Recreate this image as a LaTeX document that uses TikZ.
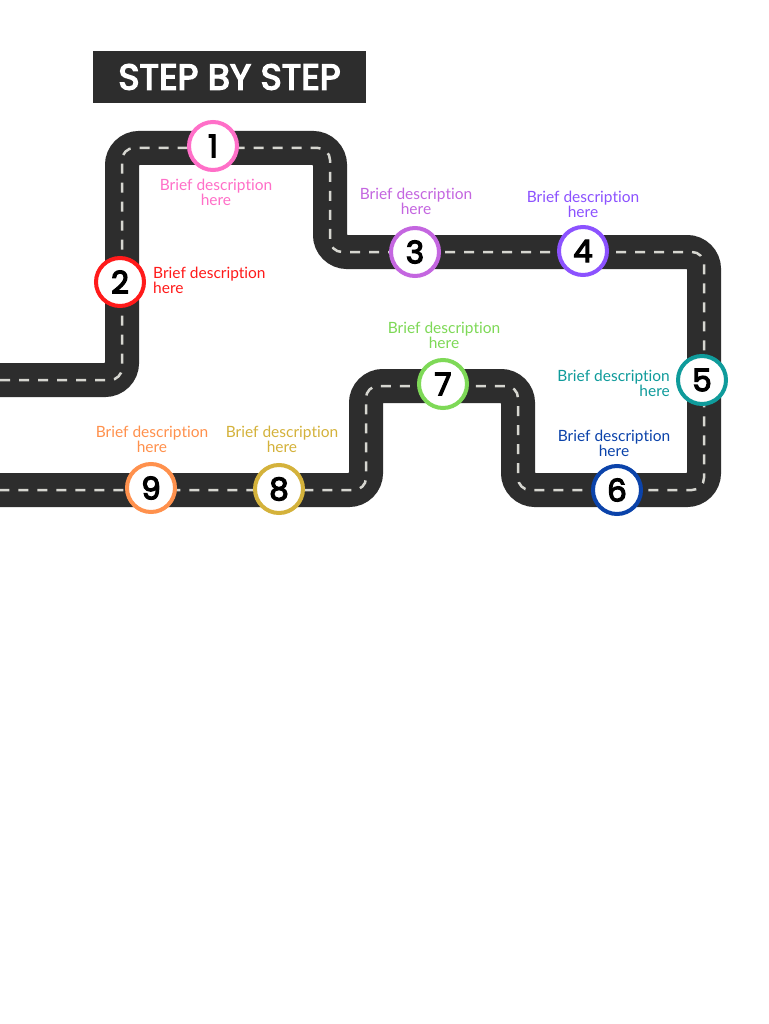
\documentclass[tikz,border=0pt]{standalone}
\usepackage{fontspec}
\setmainfont{Lato}[Ligatures=NoCommon]
\newfontfamily\numfont{Poppins}[FakeBold=4,UprightFont=*,BoldFont=*]
\newfontfamily\titlefont{Poppins}[FakeBold=4,UprightFont=*,BoldFont=*]
\definecolor{road}{HTML}{2D2D2D}
\definecolor{lane}{HTML}{D6D6D0}
\definecolor{cA}{HTML}{FF6FC8}
\definecolor{cB}{HTML}{FF1A1A}
\definecolor{cC}{HTML}{C466E0}
\definecolor{cD}{HTML}{8C52FF}
\definecolor{cE}{HTML}{0F9B9B}
\definecolor{cF}{HTML}{0B43AA}
\definecolor{cG}{HTML}{7ED957}
\definecolor{cH}{HTML}{D4B23B}
\definecolor{cI}{HTML}{FF914D}
\begin{document}
\begin{tikzpicture}[x=1pt,y=-1pt,
  stepcircle/.style={circle,draw=#1,line width=4pt,fill=white,minimum size=48pt,inner sep=0pt,font=\numfont\bfseries\fontsize{31}{31}\selectfont},
  desc/.style={text=#1,font=\fontsize{15.5}{15}\selectfont,inner sep=0pt},
  roadline/.style={draw=road,line width=34pt,rounded corners=17pt},
  laneline/.style={draw=lane,line width=2.5pt,dash pattern=on 10pt off 9pt,rounded corners=12pt}]
\useasboundingbox (0,0) rectangle (768,1024);
\fill[white] (0,0) rectangle (768,1024);
% title
\node[fill=road,minimum width=273pt,minimum height=52pt,inner sep=0pt,text=white,font=\titlefont\bfseries\fontsize{36}{36}\selectfont] (title) at (229.5,77) {STEP BY STEP\hspace{5pt}};
% road
\path[roadline] (-20,380) -- (122,380) -- (122,148) -- (330,148) -- (330,252) -- (704,252) -- (704,490) -- (518,490) -- (518,386) -- (366,386) -- (366,490) -- (-20,490);
\path[laneline] (0,380) -- (122,380) -- (122,148) -- (330,148) -- (330,252) -- (704,252) -- (704,490) -- (518,490) -- (518,386) -- (366,386) -- (366,490) -- (0,490);
% circles
\node[stepcircle=cA] (s1) at (213,146) {1};
\node[stepcircle=cB] (s2) at (120,282) {2};
\node[stepcircle=cC] (s3) at (415,252) {3};
\node[stepcircle=cD] (s4) at (583,251) {4};
\node[stepcircle=cE] (s5) at (702,380) {5};
\node[stepcircle=cF] (s6) at (617,490) {6};
\node[stepcircle=cG] (s7) at (443,384) {7};
\node[stepcircle=cH] (s8) at (279,489) {8};
\node[stepcircle=cI] (s9) at (151,488) {9};
% descriptions
\node[desc=cA,align=center] (d1) at (216,192) {Brief description\\here};
\node[desc=cB,align=left,anchor=west] (d2) at (153,280) {Brief description\\here};
\node[desc=cC,align=center] (d3) at (416,201) {Brief description\\here};
\node[desc=cD,align=center] (d4) at (583,204) {Brief description\\here};
\node[desc=cE,align=right,anchor=east] (d5) at (670,383) {Brief description\\here};
\node[desc=cF,align=center] (d6) at (614,443) {Brief description\\here};
\node[desc=cG,align=center] (d7) at (444,335) {Brief description\\here};
\node[desc=cH,align=center] (d8) at (282,439) {Brief description\\here};
\node[desc=cI,align=center] (d9) at (152,439) {Brief description\\here};
\end{tikzpicture}
\end{document}
